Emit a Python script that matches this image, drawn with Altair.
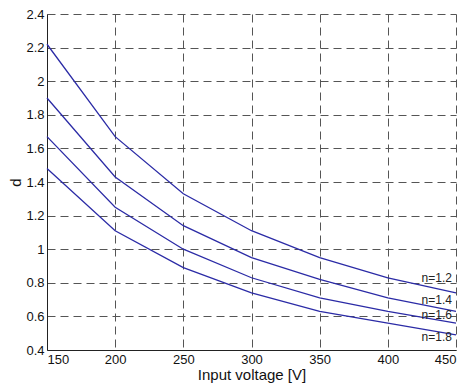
import altair as alt
import pandas as pd

# Data
voltage = [150, 200, 250, 300, 350, 400, 450]
d_n12 = [2.22, 1.67, 1.33, 1.11, 0.95, 0.83, 0.74]
d_n14 = [1.90, 1.43, 1.14, 0.95, 0.82, 0.71, 0.63]
d_n16 = [1.67, 1.25, 1.00, 0.83, 0.71, 0.63, 0.56]
d_n18 = [1.48, 1.11, 0.89, 0.74, 0.63, 0.56, 0.49]
series_names = ["n=1.2", "n=1.4", "n=1.6", "n=1.8"]

x_ticks = [150, 200, 250, 300, 350, 400, 450]
y_ticks = [0.4, 0.6, 0.8, 1.0, 1.2, 1.4, 1.6, 1.8, 2.0, 2.2, 2.4]

# label anchor points (data units)
label_x = [447, 447, 447, 447]
label_y = [0.83, 0.70, 0.61, 0.475]

rows = []
for name, vals in zip(series_names, [d_n12, d_n14, d_n16, d_n18]):
    for v, d in zip(voltage, vals):
        rows.append({"series": name, "V": v, "d": d})
df = pd.DataFrame(rows)
labels = pd.DataFrame({"series": series_names, "V": label_x, "d": label_y})

xscale = alt.Scale(domain=[150, 450], nice=False, zero=False)
yscale = alt.Scale(domain=[0.4, 2.4], nice=False, zero=False)

x_axis = alt.Axis(values=x_ticks, title="Input voltage [V]", format="d")
y_axis = alt.Axis(values=y_ticks, title="d", format="~g")

lines = alt.Chart(df).mark_line(color="#2b2ba6", strokeWidth=1.3).encode(
    x=alt.X("V:Q", scale=xscale, axis=x_axis),
    y=alt.Y("d:Q", scale=yscale, axis=y_axis),
    detail="series:N",
)

text = alt.Chart(labels).mark_text(
    align="right", baseline="middle", font="Liberation Sans", fontSize=12, color="#222"
).encode(
    x=alt.X("V:Q", scale=xscale, axis=x_axis),
    y=alt.Y("d:Q", scale=yscale, axis=y_axis),
    text="series:N",
)

chart = (lines + text).properties(
    width=409,
    height=336,
    autosize=alt.AutoSizeParams(type="none"),
    padding={"left": 39, "top": 6, "right": 10, "bottom": 33},
).configure_view(
    stroke=None
).configure_axis(
    grid=True,
    gridColor="#555555",
    gridDash=[8, 5],
    gridOpacity=1,
    gridWidth=1,
    domainColor="#222222",
    domainWidth=1,
    ticks=False,
    labelFont="Liberation Sans",
    labelFontSize=13,
    labelColor="#111111",
    labelOverlap=False,
    titleFont="Liberation Sans",
    titleFontSize=15,
    titleFontWeight="normal",
    titleColor="#111111",
).configure_axisX(
    labelPadding=3,
    titlePadding=1,
).configure_axisY(
    labelPadding=3,
    titlePadding=2,
)

chart.save("out.html", embed_options={"renderer": "svg", "actions": False})
